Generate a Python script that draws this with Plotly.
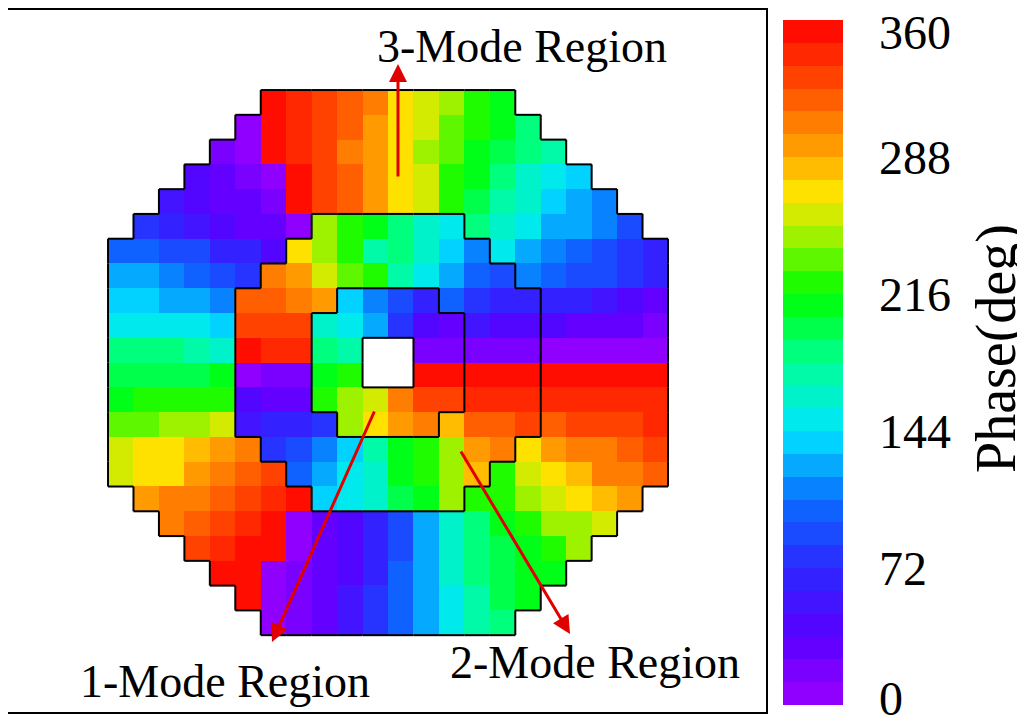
import plotly.graph_objects as go
import numpy as np

# region mask: '.' outside, 'o' 3-mode, 'r' 2-mode, 'i' 1-mode, ' ' hole
mask = [
    "......oooooooooo......",
    ".....oooooooooooo.....",
    "....oooooooooooooo....",
    "...oooooooooooooooo...",
    "..oooooooooooooooooo..",
    ".ooooooorrrrrrooooooo.",
    "ooooooorrrrrrrrooooooo",
    "oooooorrrrrrrrrroooooo",
    "ooooorrrriiiirrrrooooo",
    "ooooorrriiiiiirrrooooo",
    "ooooorrrii  iirrrooooo",
    "ooooorrrii  iirrrooooo",
    "ooooorrriiiiiirrrooooo",
    "ooooorrrriiiirrrrooooo",
    "oooooorrrrrrrrrroooooo",
    "ooooooorrrrrrrrooooooo",
    ".ooooooorrrrrrooooooo.",
    "..oooooooooooooooooo..",
    "...oooooooooooooooo...",
    "....oooooooooooooo....",
    ".....oooooooooooo.....",
    "......oooooooooo......",
]

# phase values (deg), per row: (first column, values)
rows = [
    (6, [355, 345, 330, 315, 300, 275, 255, 240, 220, 215]),
    (5, [5, 355, 345, 330, 315, 295, 275, 255, 235, 220, 215, 190]),
    (4, [15, 5, 358, 345, 330, 310, 295, 275, 250, 230, 215, 200, 185, 170]),
    (3, [40, 30, 20, 10, 355, 335, 315, 295, 275, 255, 225, 215, 190, 165, 150, 135]),
    (2, [55, 45, 35, 25, 12, 358, 335, 315, 295, 275, 255, 225, 200, 170, 160, 140, 125, 115]),
    (1, [80, 65, 55, 45, 35, 25, 10, 245, 225, 205, 190, 165, 145, 185, 165, 145, 130, 120, 110, 90]),
    (0, [105, 100, 95, 85, 70, 60, 45, 275, 250, 225, 175, 180, 160, 140, 110, 150, 120, 110, 100, 85, 75, 65]),
    (0, [125, 120, 110, 100, 90, 80, 305, 295, 260, 235, 220, 175, 155, 130, 100, 95, 110, 100, 90, 85, 75, 60]),
    (0, [140, 135, 130, 125, 115, 320, 315, 310, 295, 140, 110, 85, 60, 100, 75, 70, 65, 70, 60, 55, 45, 35]),
    (0, [155, 150, 150, 145, 140, 335, 330, 325, 160, 150, 125, 80, 45, 35, 55, 45, 40, 40, 35, 30, 25, 20]),
    (0, [180, 180, 185, 175, 165, 350, 345, 340, 180, 170, None, None, 20, 15, 20, 15, 15, 10, 10, 8, 5, 3]),
    (0, [195, 195, 195, 195, 210, 10, 15, 20, 210, 220, None, None, 355, 355, 355, 355, 355, 358, 358, 358, 358, 358]),
    (0, [215, 220, 220, 220, 225, 40, 30, 30, 220, 245, 255, 300, 325, 335, 340, 340, 345, 345, 345, 345, 345, 345]),
    (0, [230, 230, 245, 245, 255, 55, 60, 65, 80, 250, 270, 290, 310, 285, 315, 320, 325, 320, 330, 335, 335, 340]),
    (0, [255, 270, 275, 285, 295, 305, 80, 95, 115, 135, 170, 215, 225, 250, 290, 300, 275, 290, 305, 310, 320, 325]),
    (0, [255, 275, 275, 290, 300, 315, 330, 105, 130, 145, 165, 215, 225, 245, 280, 225, 255, 270, 285, 300, 310, 315]),
    (1, [290, 300, 310, 320, 330, 340, 355, 140, 155, 165, 200, 215, 240, 220, 225, 245, 255, 270, 285, 290]),
    (2, [310, 320, 330, 340, 350, 10, 25, 40, 60, 90, 130, 160, 180, 215, 225, 240, 250, 255]),
    (3, [330, 340, 350, 355, 10, 25, 40, 65, 95, 130, 160, 180, 200, 215, 225, 240]),
    (4, [350, 355, 8, 15, 30, 45, 70, 100, 130, 160, 180, 195, 210, 215]),
    (5, [358, 5, 15, 30, 50, 75, 100, 130, 155, 175, 195, 205]),
    (6, [5, 15, 35, 55, 80, 105, 130, 155, 170, 180]),
]

tick_vals = [0, 72, 144, 216, 288, 360]
labels = ["3-Mode Region", "1-Mode Region", "2-Mode Region"]
cbar_title = "Phase(deg)"

N = 22
Z = [[None] * N for _ in range(N)]
for r, (c0, vals) in enumerate(rows):
    for k, v in enumerate(vals):
        c = c0 + k
        if c < N and mask[r][c] not in ". ":
            Z[r][c] = v

# discrete jet-like colorscale with 30 bands
anchors = [(0, (155, 0, 255)), (36, (90, 0, 255)), (72, (45, 40, 255)), (108, (10, 110, 255)),
           (144, (0, 230, 255)), (180, (0, 255, 150)), (216, (0, 255, 0)), (252, (190, 240, 0)),
           (270, (255, 225, 0)), (288, (255, 170, 0)), (324, (255, 80, 0)), (360, (255, 0, 0))]
av = np.array([a[0] for a in anchors], float)
ac = np.array([a[1] for a in anchors], float)
nb = 30
cs = []
for b in range(nb):
    mid = (b + 0.5) * 360 / nb
    col = [int(np.interp(mid, av, ac[:, j])) for j in range(3)]
    s = f"rgb({col[0]},{col[1]},{col[2]})"
    cs.append([b / nb, s]); cs.append([(b + 1) / nb, s])

# region borders computed from mask
def reg(r, c):
    if 0 <= r < N and 0 <= c < N:
        ch = mask[r][c]
        return "." if ch in ". " else ch
    return "."
bx, by = [], []
for r in range(N):
    for c in range(N + 1):
        if reg(r, c - 1) != reg(r, c):
            bx += [c - 0.5, c - 0.5, None]; by += [r - 0.5, r + 0.5, None]
for r in range(N + 1):
    for c in range(N):
        if reg(r - 1, c) != reg(r, c):
            bx += [c - 0.5, c + 0.5, None]; by += [r - 0.5, r - 0.5, None]

OFF = 8  # page body margin
W, H = 1025, 727
L, R, T, B = 8 - OFF, 766 - OFF, 10 - OFF, 712 - OFF
CB_TOP, CB_BOT = 20, 705

tfont = dict(family="Liberation Serif", size=48, color="black")
fig = go.Figure()
fig.add_trace(go.Heatmap(
    z=Z, x=list(range(N)), y=list(range(N)), zmin=0, zmax=360, colorscale=cs,
    hoverongaps=False, xgap=0, ygap=0,
    colorbar=dict(x=(783 - OFF) / W, xanchor="left", xref="container", yref="container",
                  y=1 - (CB_TOP - OFF) / H, yanchor="top", len=CB_BOT - CB_TOP, lenmode="pixels",
                  thickness=60, outlinewidth=0, tickvals=tick_vals, ticks="",
                  showticklabels=False, ypad=0, xpad=0)))
fig.add_trace(go.Scatter(x=bx, y=by, mode="lines", line=dict(color="black", width=2),
                         hoverinfo="skip", showlegend=False))

def px(x): return (x - OFF - L) / (R - L)
def py(y): return 1 - (y - OFF - T) / (B - T)

# colorbar tick labels and title
for v in tick_vals:
    ypix = CB_BOT - (CB_BOT - CB_TOP) * v / 360
    ypix = min(max(ypix, 32), 698)
    fig.add_annotation(x=px(877), y=py(ypix), xref="paper", yref="paper", text=str(v),
                       showarrow=False, font=tfont, xanchor="left", yanchor="middle")
fig.add_annotation(x=px(997), y=py(348), xref="paper", yref="paper", text=cbar_title,
                   showarrow=False, textangle=-90, xanchor="center", yanchor="middle",
                   font=dict(family="Liberation Serif", size=56, color="black"))

font = dict(family="Liberation Serif", size=46, color="black")
for txt, (x, y) in zip(labels, [(522, 46), (225, 681), (595, 662)]):
    fig.add_annotation(x=px(x), y=py(y), xref="paper", yref="paper", text=txt, showarrow=False,
                       font=font, xanchor="center", yanchor="middle")
for (x0, y0, x1, y1) in [(398, 178, 398, 64), (375, 410, 272, 642), (460, 450, 570, 634)]:
    fig.add_annotation(x=px(x1), y=py(y1), ax=px(x0), ay=py(y0), xref="x domain", yref="y domain",
                       axref="x domain", ayref="y domain", text="", showarrow=True, arrowhead=2,
                       arrowsize=1.2, arrowwidth=3, arrowcolor="#e00000")

fig.update_xaxes(range=[-4.43, 25.35], showgrid=False, zeroline=False, showticklabels=False,
                 ticks="", showline=True, linecolor="black", linewidth=1.5, mirror=True)
fig.update_yaxes(range=[24.6, -3.73], showgrid=False, zeroline=False, showticklabels=False,
                 ticks="", showline=True, linecolor="black", linewidth=1.5, mirror=True)
fig.update_layout(width=W, height=H, margin=dict(l=L, r=W - R, t=T, b=H - B, autoexpand=False),
                  plot_bgcolor="white", paper_bgcolor="white", showlegend=False)
fig.write_html("out.html")
